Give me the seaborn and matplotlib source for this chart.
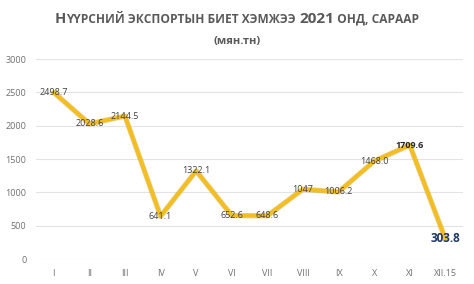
import matplotlib
matplotlib.use("Agg")
import matplotlib.pyplot as plt
import seaborn as sns
import pandas as pd

months = ["I", "II", "III", "IV", "V", "VI", "VII", "VIII", "IX", "X", "XI", "XII.15"]
values = [2498.7, 2028.6, 2144.5, 641.1, 1322.1, 652.6, 648.6, 1047, 1006.2, 1468.0, 1709.6, 303.8]
labels = ["2498.7", "2028.6", "2144.5", "641.1", "1322.1", "652.6", "648.6", "1047", "1006.2", "1468.0", "1709.6", "303.8"]
yticks = [0, 500, 1000, 1500, 2000, 2500, 3000]

sns.set_theme(style="white")
plt.rcParams['font.family'] = ['Open Sans', 'DejaVu Sans']

df = pd.DataFrame({"month": months, "value": values, "x": range(len(months))})

fig = plt.figure(figsize=(4.74, 2.84), dpi=100)
ax = fig.add_axes([0.076, 0.088, 0.901, 0.704])

sns.lineplot(data=df, x="x", y="value", ax=ax, color="#C99A10", linewidth=3.8,
             alpha=0.45, zorder=2, legend=False)
sns.lineplot(data=df, x="x", y="value", ax=ax, color="#F2BE22", linewidth=2.8,
             solid_joinstyle="round", solid_capstyle="round", zorder=3)

ax.set_xlim(-0.5, len(months) - 0.5)
ax.set_ylim(0, 3000)
ax.set_yticks(yticks)
ax.set_yticklabels([str(t) for t in yticks])
ax.set_xticks(range(len(months)))
ax.set_xticklabels(months)
ax.grid(axis="y", color="#E3E3E3", linewidth=0.8)
ax.grid(axis="x", visible=False)
for s in ax.spines.values():
    s.set_visible(False)
ax.tick_params(axis="both", length=0, labelsize=6.5, colors="#6f6f6f")
ax.tick_params(axis="x", pad=7)
ax.tick_params(axis="y", pad=7)
ax.set_xlabel("")
ax.set_ylabel("")

# data labels, centred on the points
for i, (v, lab) in enumerate(zip(values, labels)):
    if i == 11:
        kw = dict(fontsize=8.5, fontweight="bold", color="#1F3864")
    elif i == 10:
        kw = dict(fontsize=6.5, fontweight="bold", color="#262626")
    else:
        kw = dict(fontsize=6.5, color="#404040")
    ax.annotate(lab, (i, v), xytext=(0, 0), textcoords="offset points",
                ha="center", va="center", zorder=5, **kw)

# title in small-caps style
parts = [("Н", 10.5), ("ҮҮРСНИЙ ЭКСПОРТЫН БИЕТ ХЭМЖЭЭ ", 8.6), ("2021", 11), (" ОНД, САРААР", 8.6)]
renderer = fig.canvas.get_renderer()
texts = []
widths = []
for s, fs in parts:
    t = fig.text(0, 0.92, s, ha="left", va="baseline", fontsize=fs,
                 fontweight="bold", color="#595959")
    texts.append(t)
    widths.append(t.get_window_extent(renderer).width / fig.bbox.width)
x0 = 0.5 - sum(widths) / 2
for t, w in zip(texts, widths):
    t.set_x(x0)
    x0 += w

fig.text(0.5, 0.854, "(мян.тн)", ha="center", va="center", fontsize=8,
         fontweight="bold", color="#595959")

fig.savefig("out.png", dpi=100)
